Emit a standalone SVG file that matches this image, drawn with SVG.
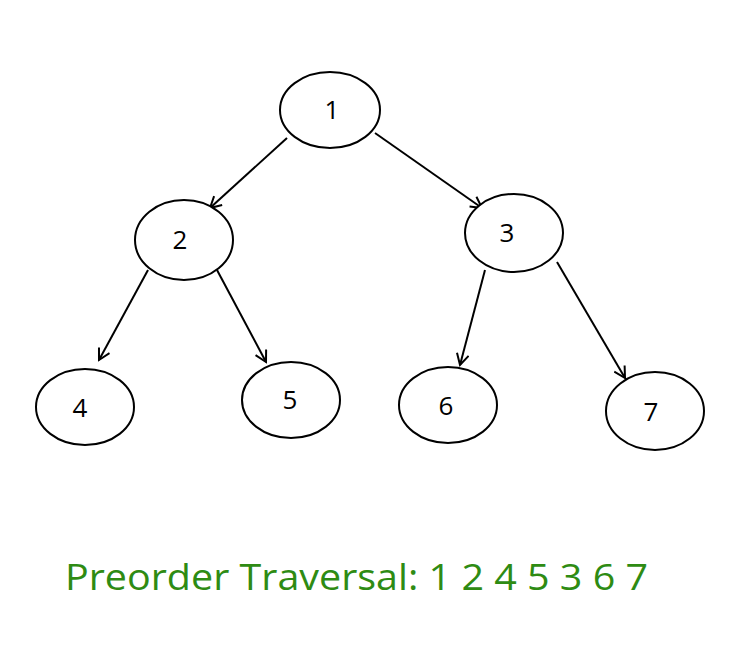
<svg xmlns="http://www.w3.org/2000/svg" width="744" height="658" viewBox="0 0 744 658">
<defs>
<marker id="a" markerWidth="14" markerHeight="14" refX="12" refY="7" orient="auto" markerUnits="userSpaceOnUse">
<path d="M1,1 L12,7 L1,13" fill="none" stroke="#000" stroke-width="2"/>
</marker>
<style>
ellipse{fill:#fff;stroke:#000;stroke-width:2}
.l{font-family:"Open Sans","Liberation Sans",sans-serif;font-size:26px;text-anchor:middle;fill:#000}
.e{stroke:#000;stroke-width:2;fill:none;marker-end:url(#a)}
</style>
</defs>
<rect width="744" height="658" fill="#fff"/>
<g id="edges">
<line class="e" x1="287" y1="138" x2="210" y2="208"/>
<line class="e" x1="375" y1="133" x2="482" y2="208"/>
<line class="e" x1="148" y1="270" x2="99" y2="360"/>
<line class="e" x1="217" y1="270" x2="266" y2="362"/>
<line class="e" x1="485" y1="270" x2="460" y2="365"/>
<line class="e" x1="557" y1="262" x2="625" y2="378"/>
</g>
<g id="n1"><ellipse cx="330" cy="110" rx="50" ry="38"/><text class="l" x="332" y="119">1</text></g>
<g id="n2"><ellipse cx="184" cy="240" rx="49" ry="40"/><text class="l" x="180" y="249">2</text></g>
<g id="n3"><ellipse cx="514" cy="233" rx="49" ry="39"/><text class="l" x="507" y="242">3</text></g>
<g id="n4"><ellipse cx="85" cy="407" rx="49" ry="38"/><text class="l" x="80" y="417">4</text></g>
<g id="n5"><ellipse cx="291" cy="400" rx="49" ry="38"/><text class="l" x="290" y="409">5</text></g>
<g id="n6"><ellipse cx="448" cy="405" rx="49" ry="38"/><text class="l" x="446" y="415">6</text></g>
<g id="n7"><ellipse cx="655" cy="411" rx="49" ry="39"/><text class="l" x="651" y="421">7</text></g>
<text x="65" y="590" font-family="Open Sans,Liberation Sans,sans-serif" font-size="36" fill="#2e8b13" textLength="583" lengthAdjust="spacingAndGlyphs">Preorder Traversal: 1 2 4 5 3 6 7</text>
</svg>
